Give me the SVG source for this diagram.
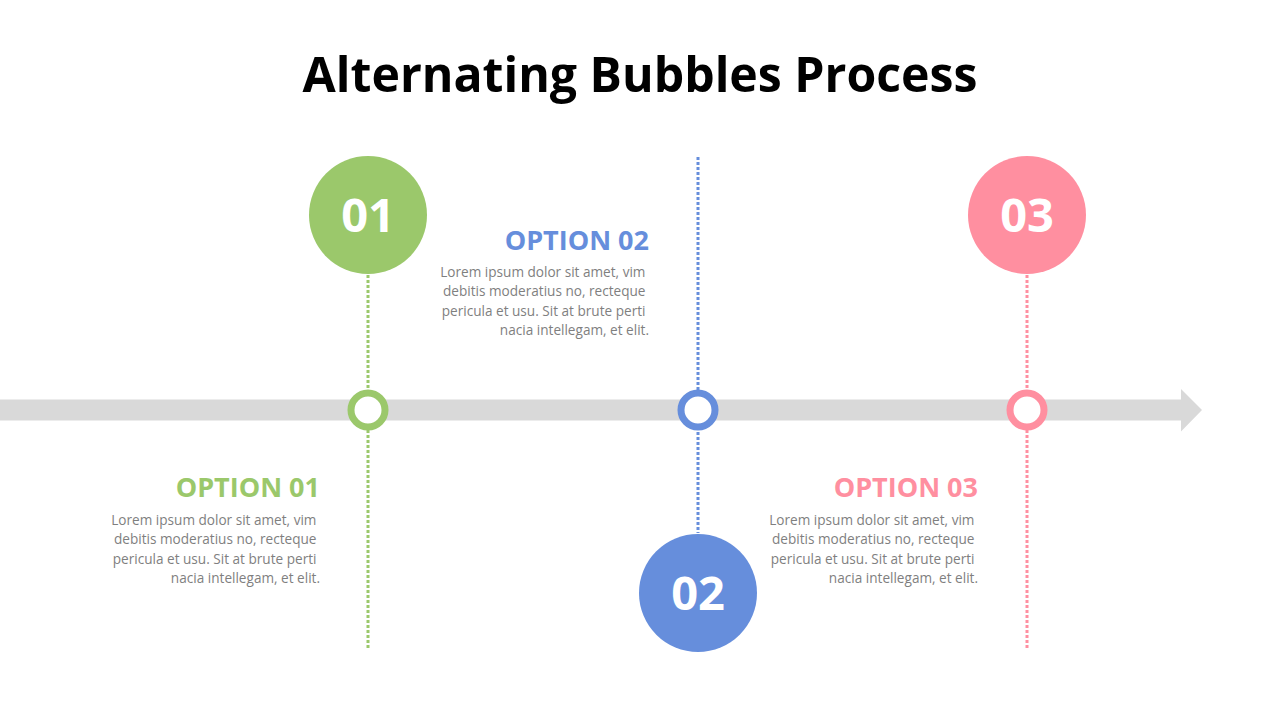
<svg xmlns="http://www.w3.org/2000/svg" width="1280" height="720" viewBox="0 0 1280 720">
  <style>
    .title { font-family: "Open Sans", "Liberation Sans", sans-serif; font-weight: 700; font-size: 48.2px; fill: #000; }
    .num { font-family: "Open Sans", "Liberation Sans", sans-serif; font-weight: 700; font-size: 47px; fill: #fff; text-anchor: middle; }
    .opt { font-family: "Open Sans", "Liberation Sans", sans-serif; font-weight: 700; font-size: 27px; text-anchor: end; }
    .body { font-family: "Open Sans", "Liberation Sans", sans-serif; font-size: 13.6px; fill: #7f7f7f; text-anchor: end; }
    .dot { fill: none; stroke-width: 3; stroke-dasharray: 3 2; }
    .ring { fill: #fff; stroke-width: 7; }
    .g { fill: #9bc86b; } .gs { stroke: #9bc86b; }
    .b { fill: #668edc; } .bs { stroke: #668edc; }
    .p { fill: #ff8fa0; } .ps { stroke: #ff8fa0; }
  </style>
  <rect width="1280" height="720" fill="#fff"/>
  <text class="title" x="640" y="92" text-anchor="middle">Alternating Bubbles Process</text>

  <g id="connectors">
    <polygon points="0,399.5 1181,399.5 1181,389 1202,410 1181,431.5 1181,420.5 0,420.5" fill="#d9d9d9"/>
    <line class="dot gs" x1="368" y1="275" x2="368" y2="650"/>
    <line class="dot bs" x1="698" y1="157" x2="698" y2="533"/>
    <line class="dot ps" x1="1027" y1="275" x2="1027" y2="650"/>
  </g>

  <g id="node1">
    <circle class="g" cx="368" cy="215" r="59"/>
    <text class="num" x="368" y="232">01</text>
    <circle class="ring gs" cx="368" cy="410" r="17"/>
    <text class="opt g" x="320" y="497">OPTION 01</text>
    <text class="body">
      <tspan x="320" y="525">Lorem ipsum dolor sit amet, vim</tspan>
      <tspan x="320" y="544.3">debitis moderatius no, recteque</tspan>
      <tspan x="320" y="563.6">pericula et usu. Sit at brute perti</tspan>
      <tspan x="320" y="583">nacia intellegam, et elit.</tspan>
    </text>
  </g>

  <g id="node2">
    <circle class="b" cx="698" cy="593" r="59"/>
    <text class="num" x="698" y="610">02</text>
    <circle class="ring bs" cx="698" cy="410" r="17"/>
    <text class="opt b" x="649" y="250">OPTION 02</text>
    <text class="body">
      <tspan x="649" y="277">Lorem ipsum dolor sit amet, vim</tspan>
      <tspan x="649" y="296.3">debitis moderatius no, recteque</tspan>
      <tspan x="649" y="315.6">pericula et usu. Sit at brute perti</tspan>
      <tspan x="649" y="335">nacia intellegam, et elit.</tspan>
    </text>
  </g>

  <g id="node3">
    <circle class="p" cx="1027" cy="215" r="59"/>
    <text class="num" x="1027" y="232">03</text>
    <circle class="ring ps" cx="1027" cy="410" r="17"/>
    <text class="opt p" x="978" y="497">OPTION 03</text>
    <text class="body">
      <tspan x="978" y="525">Lorem ipsum dolor sit amet, vim</tspan>
      <tspan x="978" y="544.3">debitis moderatius no, recteque</tspan>
      <tspan x="978" y="563.6">pericula et usu. Sit at brute perti</tspan>
      <tspan x="978" y="583">nacia intellegam, et elit.</tspan>
    </text>
  </g>
</svg>
